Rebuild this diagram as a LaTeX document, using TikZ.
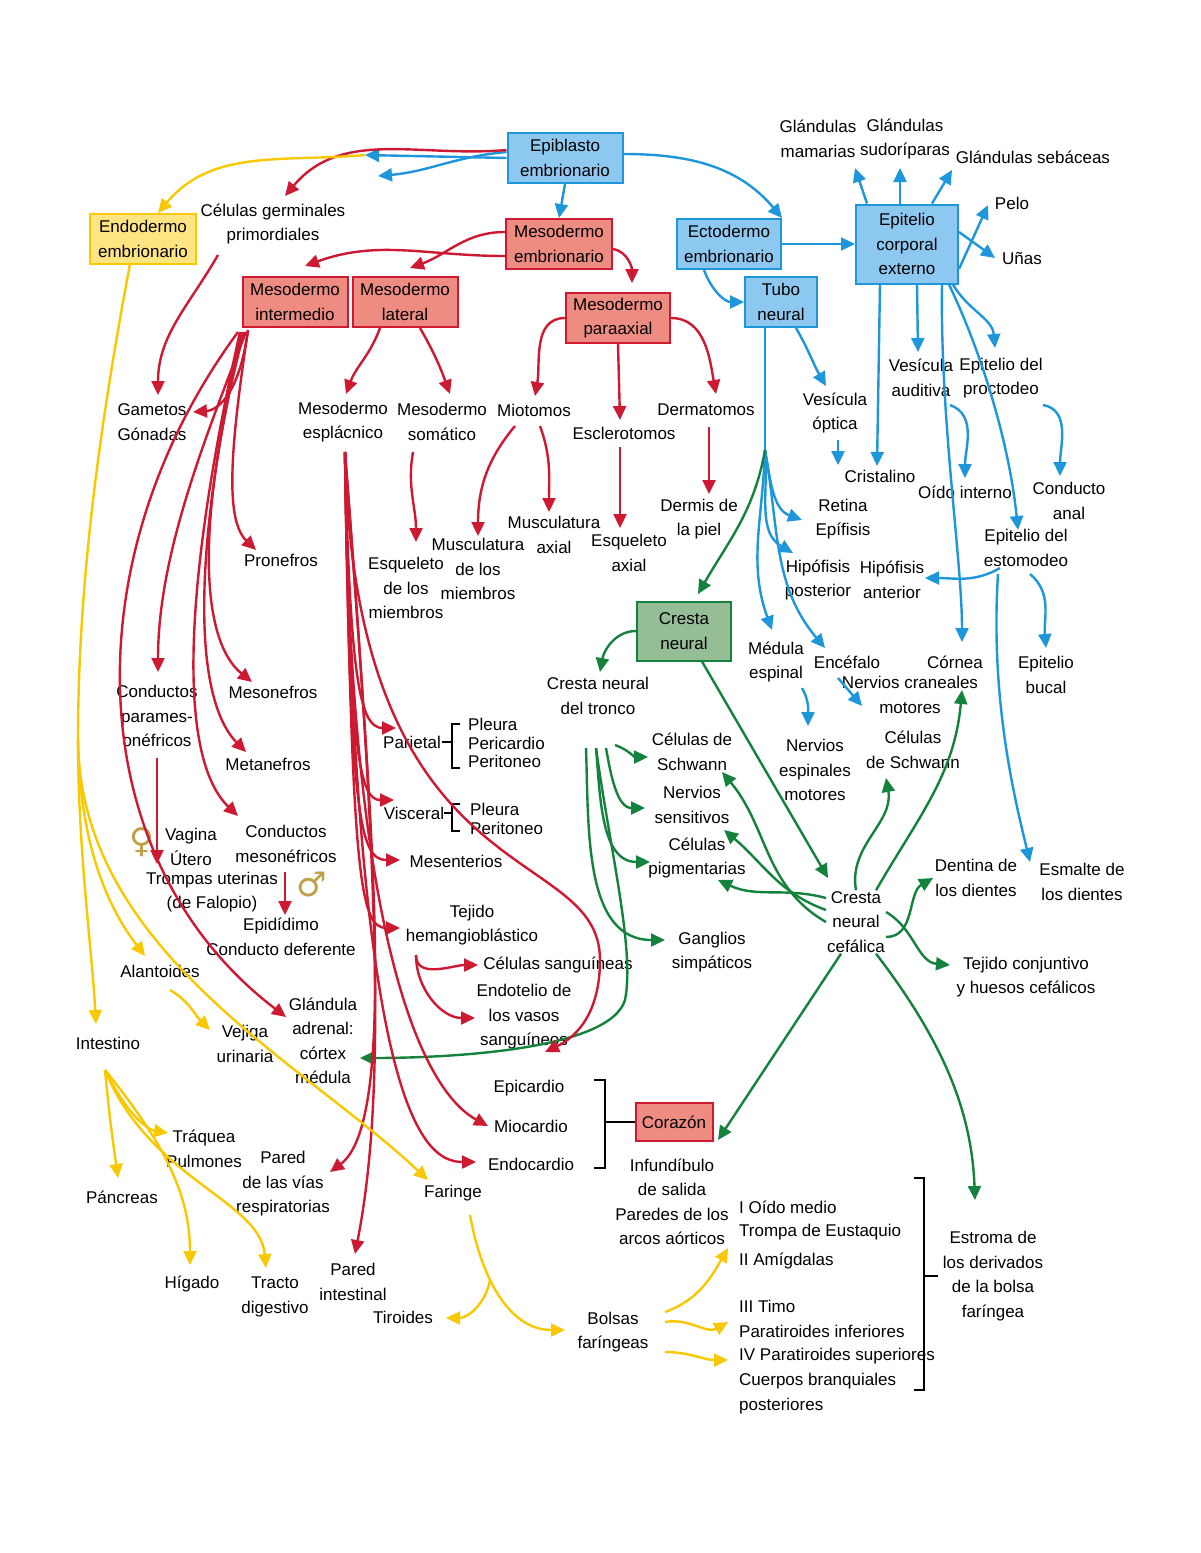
\documentclass[tikz,border=0pt]{standalone}
\usepackage{fontspec}
\setmainfont{Liberation Sans}
\newfontfamily\sym{DejaVu Sans}
\usetikzlibrary{arrows.meta}
\definecolor{bl}{RGB}{30,150,220}
\definecolor{blf}{RGB}{140,200,240}
\definecolor{rd}{RGB}{205,25,50}
\definecolor{rdf}{RGB}{238,140,130}
\definecolor{yl}{RGB}{250,200,0}
\definecolor{ylf}{RGB}{255,228,130}
\definecolor{gr}{RGB}{20,130,60}
\definecolor{grf}{RGB}{150,190,150}
\definecolor{gold}{RGB}{190,160,70}
\newcommand{\fs}{\fontsize{17}{24.5}\selectfont}
\tikzset{
 t/.style={align=center,font=\fs,inner sep=1pt},
 tl/.style={align=left,font=\fs,inner sep=1pt,anchor=west},
 sy/.style={font=\sym\fontsize{34}{34}\selectfont,text=gold,inner sep=0pt},
 bx/.style={t,draw,line width=2pt,minimum height=50pt,inner sep=4pt},
 B/.style={bx,draw=bl,fill=blf},
 R/.style={bx,draw=rd,fill=rdf},
 Y/.style={bx,draw=yl,fill=ylf},
 G/.style={bx,draw=gr,fill=grf},
 a/.style={line width=2.4pt,-{Triangle[length=14pt,width=13pt]}},
 ab/.style={a,bl}, ar/.style={a,rd}, ay/.style={a,yl}, ag/.style={a,gr},
 ln/.style={line width=2.4pt}
}
\begin{document}
\begin{tikzpicture}[x=1pt,y=-1pt]
\useasboundingbox[fill=white] (0,0) rectangle (1200,1553);
% boxes
\node[B,minimum width=115pt] (epi) at (565,158) {Epiblasto\\embrionario};
\node[Y,minimum width=106pt] (endo) at (143,239) {Endodermo\\embrionario};
\node[R,minimum width=106pt] (meso) at (559,244) {Mesodermo\\embrionario};
\node[B,minimum width=104pt] (ecto) at (729,244) {Ectodermo\\embrionario};
\node[R,minimum width=105pt] (mint) at (295,302) {Mesodermo\\intermedio};
\node[R,minimum width=105pt] (mlat) at (405,302) {Mesodermo\\lateral};
\node[R,minimum width=104pt] (mpar) at (618,318) {Mesodermo\\paraaxial};
\node[B,minimum width=72pt] (tubo) at (781,302) {Tubo\\neural};
\node[B,minimum width=102pt,minimum height=79pt] (epit) at (907,244) {Epitelio\\corporal\\externo};
\node[G,minimum width=94pt,minimum height=59pt] (cn) at (684,631) {Cresta\\neural};
\node[R,minimum width=77pt,minimum height=38pt] (cor) at (674,1122) {Corazón};
% texts
\node[t] (cgp) at (273,224) {Células germinales\\primordiales};
\node[t] (gma) at (818,139) {Glándulas\\mamarias};
\node[t] (gsu) at (905,139) {Glándulas\\sudoríparas};
\node[t] (gse) at (1033,157) {Glándulas sebáceas};
\node[t] (pelo) at (1012,203) {Pelo};
\node[t] (unas) at (1022,258) {Uñas};
\node[t] (gam) at (152,422) {Gametos\\Gónadas};
\node[t] (mesp) at (343,422) {Mesodermo\\esplácnico};
\node[t] (msom) at (442,422) {Mesodermo\\somático};
\node[t] (mio) at (534,410) {Miotomos};
\node[t] (der) at (706,410) {Dermatomos};
\node[t] (esc) at (624,433) {Esclerotomos};
\node[t] (vop) at (835,413) {Vesícula\\óptica};
\node[t] (vau) at (921,378) {Vesícula\\auditiva};
\node[t] (epr) at (1001,378) {Epitelio del\\proctodeo};
\node[t] (cri) at (880,476) {Cristalino};
\node[t] (oid) at (965,492) {Oído interno};
\node[t] (can) at (1069,501) {Conducto\\anal};
\node[t] (ret) at (843,519) {Retina\\Epífisis};
\node[t] (dpi) at (699,519) {Dermis de\\la piel};
\node[t] (max) at (554,535) {Musculatura\\axial};
\node[t] (eax) at (629,553) {Esqueleto\\axial};
\node[t] (mmi) at (478,569) {Musculatura\\de los\\miembros};
\node[t] (emi) at (406,588) {Esqueleto\\de los\\miembros};
\node[t] (pro) at (281,560) {Pronefros};
\node[t] (est) at (1026,548) {Epitelio del\\estomodeo};
\node[t] (hpo) at (818,580) {Hipófisis\\posterior};
\node[t] (han) at (892,580) {Hipófisis\\anterior};
\node[t] (med) at (776,662) {Médula\\espinal};
\node[t] (enc) at (847,662) {Encéfalo};
\node[t] (cor2) at (955,662) {Córnea};
\node[t] (ebu) at (1046,675) {Epitelio\\bucal};
\node[t] (ncr) at (910,695) {Nervios craneales\\motores};
\node[t] (cnt) at (598,696) {Cresta neural\\del tronco};
\node[t] (cpm) at (157,716) {Conductos\\parames-\\onéfricos};
\node[t] (mes) at (273,692) {Mesonefros};
\node[t] (sch1) at (692,752) {Células de\\Schwann};
\node[t] (nem) at (815,770) {Nervios\\espinales\\motores};
\node[t] (sch2) at (913,750) {Células\\de Schwann};
\node[t] (par) at (412,742) {Parietal};
\node[tl] (ppp) at (467,743) {Pleura\\[-6pt]Pericardio\\[-6pt]Peritoneo};
\node[t] (met) at (268,764) {Metanefros};
\node[t] (nse) at (692,805) {Nervios\\sensitivos};
\node[t] (vis) at (414,813) {Visceral};
\node[tl] (pp) at (469,819) {Pleura\\[-6pt]Peritoneo};
\node[t] (vag) at (191,847) {Vagina\\Útero};
\node[sy] (fem) at (142,842) {♀};
\node[t] (cme) at (286,844) {Conductos\\mesonéfricos};
\node[t] (cpi) at (697,858) {Células\\pigmentarias};
\node[t] (mst) at (456,861) {Mesenterios};
\node[t] (den) at (976,878) {Dentina de\\los dientes};
\node[t] (esm) at (1082,882) {Esmalte de\\los dientes};
\node[t] (tro) at (212,892) {Trompas uterinas\\(de Falopio)};
\node[sy] (mas) at (312,884) {♂};
\node[t] (cnc) at (856,922) {Cresta\\neural\\cefálica};
\node[t] (the) at (472,925) {Tejido\\hemangioblástico};
\node[t] (epd) at (281,937) {Epidídimo\\Conducto deferente};
\node[t] (gan) at (712,952) {Ganglios\\simpáticos};
\node[t] (csa) at (558,965) {Células sanguíneas};
\node[t] (tej) at (1026,977) {Tejido conjuntivo\\y huesos cefálicos};
\node[t] (ala) at (160,971) {Alantoides};
\node[t] (endv) at (524,1017) {Endotelio de\\los vasos\\sanguíneos};
\node[t] (adr) at (323,1041) {Glándula\\adrenal:\\córtex\\médula};
\node[t] (vej) at (245,1044) {Vejiga\\urinaria};
\node[t] (int) at (108,1043) {Intestino};
\node[t] (epc) at (529,1088) {Epicardio};
\node[t] (mic) at (531,1126) {Miocardio};
\node[t] (enc2) at (531,1164) {Endocardio};
\node[t] (tra) at (204,1149) {Tráquea\\Pulmones};
\node[t] (pvr) at (283,1184) {Pared\\de las vías\\respiratorias};
\node[t] (pan) at (122,1197) {Páncreas};
\node[t] (far) at (453,1193) {Faringe};
\node[t] (inf) at (672,1202) {Infundíbulo\\de salida\\Paredes de los\\arcos aórticos};
\node[tl] (l1) at (738,1207) {I Oído medio};
\node[tl] (l2) at (738,1232) {Trompa de Eustaquio};
\node[tl] (l3) at (738,1261) {II Amígdalas};
\node[tl] (l4) at (738,1306) {III Timo};
\node[tl] (l5) at (738,1331) {Paratiroides inferiores};
\node[tl] (l6) at (738,1356) {IV Paratiroides superiores};
\node[tl] (l7) at (738,1381) {Cuerpos branquiales};
\node[tl] (l8) at (738,1406) {posteriores};
\node[t] (estr) at (993,1276) {Estroma de\\los derivados\\de la bolsa\\faríngea};
\node[t] (hig) at (192,1284) {Hígado};
\node[t] (tdi) at (275,1297) {Tracto\\digestivo};
\node[t] (pin) at (353,1282) {Pared\\intestinal};
\node[t] (tir) at (403,1317) {Tiroides};
\node[t] (bol) at (613,1332) {Bolsas\\faríngeas};
% brackets
\draw[line width=1.2pt] (442,742)--(452,742) (460,724)--(452,724)--(452,768)--(460,768);
\draw[line width=1.2pt] (444,813)--(452,813) (460,804)--(452,804)--(452,831)--(460,831);
\draw[line width=1.5pt] (594,1080)--(605,1080)--(605,1168)--(594,1168) (605,1122)--(cor.west);
\draw[line width=1.5pt] (914,1178)--(924,1178)--(924,1390)--(914,1390) (924,1276)--(938,1276);
% ---- blue
\coordinate (yb) at (365,155);
\draw[ab] (epi.west) -- (yb);
\draw[ab] ([yshift=6]epi.west) to[out=185,in=5] (378,176);
\draw[ab] (epi.south) -- (meso.north);
\draw[ab] ([yshift=4]epi.east) to[out=0,in=130] (ecto.north east);
\draw[ab] (ecto.east) -- (epit.west);
\draw[ab] ([xshift=-25]ecto.south) to[out=-70,in=180] (tubo.west);
\draw[ab] ([xshift=-40]epit.north) -- (855,168);
\draw[ab] ([xshift=-7]epit.north) -- (900,168);
\draw[ab] ([xshift=25]epit.north) -- (952,170);
\draw[ab] ([yshift=-25]epit.east) -- (988,205);
\draw[ab] ([yshift=12]epit.east) -- (995,258);
\draw[ab] ([xshift=10]epit.south) -- (918,352);
\draw[ab] ([xshift=46]epit.south) to[out=-60,in=95] (995,348);
\draw[ab] ([xshift=-27]epit.south) -- (877,466);
\draw[ab] ([xshift=35]epit.south) .. controls (940,420) and (962,560) .. (962,642);
\draw[ab] ([xshift=42]epit.south) .. controls (985,360) and (1010,450) .. (1018,530);
\draw[ab] (950,405) to[out=-20,in=90] (965,478);
\draw[ab] (1043,405) to[out=-10,in=90] (1060,476);
\draw[ab] (1000,568) to[out=-150,in=0] (925,578);
\draw[ab] (998,574) .. controls (990,700) and (1015,800) .. (1030,862);
\draw[ab] (1030,574) to[out=-40,in=95] (1046,648);
\draw[ab] ([xshift=15]tubo.south) to[out=-60,in=120] (826,386);
\draw[ab] (838,440) -- (838,465);
\coordinate (tt) at (765,450);
\draw[ln,bl] ([xshift=-16]tubo.south) -- (tt);
\draw[ab] (tt) to[out=-80,in=160] (802,520);
\draw[ab] (tt) to[out=-85,in=150] (793,553);
\draw[ab] (tt) to[out=-92,in=110] (772,630);
\draw[ab] (tt) to[out=-80,in=130] (825,648);
\draw[ab] (802,688) to[out=-60,in=90] (808,726);
\draw[ab] (838,678) -- (862,706);
% ---- green
\draw[ag] (tt) to[out=-100,in=60] (698,594);
\draw[ag] (cn.west) to[out=180,in=80] (600,672);
\draw[ag] ([xshift=18]cn.south) -- (828,878);
\coordinate (ct1) at (586,748); \coordinate (ct2) at (596,748); \coordinate (ct3) at (606,748);
\draw[ag] (615,745) to[out=-20,in=180] (648,757);
\draw[ag] (ct3) to[out=-80,in=180] (645,808);
\draw[ag] (ct2) to[out=-85,in=180] (650,862);
\draw[ag] (ct1) to[out=-88,in=180] (665,940);
\draw[ag] (ct2) .. controls (610,850) and (635,950) .. (625,1000) .. controls (610,1050) and (450,1058) .. (360,1058);
\draw[ag] (cnc.west) to[out=150,in=-50] (722,772);
\draw[ag] ([yshift=12]cnc.west) to[out=160,in=-40] (724,830);
\draw[ag] ([yshift=24]cnc.west) to[out=165,in=-25] (718,880);
\draw[ag] (cnc.north) to[out=100,in=-80] (886,778);
\draw[ag] ([xshift=20]cnc.north) to[out=60,in=-95] (962,690);
\draw[ag] ([yshift=-15]cnc.east) to[out=0,in=-150] (933,878);
\draw[ag] ([yshift=10]cnc.east) to[out=-30,in=175] (950,965);
\draw[ag] ([xshift=-15]cnc.south) -- (718,1140);
\draw[ag] ([xshift=20]cnc.south) .. controls (950,1050) and (972,1120) .. (975,1200);
% ---- red
\draw[ar] ([yshift=8]epi.west) to[out=185,in=50] (285,196);
\draw[ar] ([yshift=-12]meso.west) to[out=180,in=20] (305,266);
\draw[ar] ([yshift=12]meso.west) to[out=180,in=20] (410,268);
\draw[ar] ([yshift=-5]meso.east) to[out=-10,in=90] (632,283);
\draw[ar] (218,255) to[out=-120,in=90] (158,395);
\coordinate (mi) at (248,330);
\draw[ar] (mi) .. controls (240,390) and (220,410) .. (193,412);
\draw[ar] (mi) .. controls (230,450) and (225,520) .. (256,550);
\draw[ar] (246,332) .. controls (200,450) and (158,560) .. (158,672);
\draw[ar] (244,332) .. controls (195,520) and (200,640) .. (252,682);
\draw[ar] (242,332) .. controls (190,560) and (195,700) .. (246,752);
\draw[ar] (240,332) .. controls (180,600) and (180,760) .. (238,816);
\draw[ar] (238,332) .. controls (70,560) and (80,860) .. (286,1017);
\draw[ar] (157,758) -- (157,864);
\draw[ar] (285,872) -- (285,915);
\draw[ar] ([xshift=-25]mlat.south) to[out=-110,in=70] (346,394);
\draw[ar] ([xshift=15]mlat.south) to[out=-60,in=110] (450,394);
\draw[ar] (mpar.west) to[out=180,in=80] (535,396);
\draw[ar] (mpar.south) -- (620,420);
\draw[ar] (mpar.east) to[out=0,in=100] (716,394);
\draw[ar] (620,447) -- (620,528);
\draw[ar] (709,427) -- (709,494);
\draw[ar] (413,452) to[out=-100,in=90] (416,542);
\draw[ar] (515,426) to[out=-130,in=90] (478,536);
\draw[ar] (540,426) to[out=-70,in=90] (549,512);
\coordinate (sp) at (345,452);
\draw[ar] (sp) .. controls (350,680) and (360,728) .. (396,728);
\draw[ar] (sp) .. controls (350,760) and (360,800) .. (394,800);
\draw[ar] (sp) .. controls (350,820) and (360,860) .. (400,860);
\draw[ar] (sp) .. controls (352,880) and (360,928) .. (400,928);
\draw[ar] (sp) .. controls (355,900) and (600,840) .. (600,960) .. controls (600,1020) and (570,1040) .. (545,1052);
\draw[ar] (sp) .. controls (350,1000) and (440,1100) .. (488,1126);
\draw[ar] (sp) .. controls (355,1100) and (420,1162) .. (476,1162);
\draw[ar] (sp) .. controls (370,800) and (400,1120) .. (330,1172);
\draw[ar] (sp) .. controls (380,900) and (385,1100) .. (355,1254);
\draw[ar] (416,955) to[out=-90,in=180] (478,965);
\draw[ar] (416,955) to[out=-90,in=180] (475,1018);
% ---- yellow
\draw[ay] (yb) to[out=185,in=50] ([xshift=15]endo.north);
\coordinate (ye) at (130,264);
\coordinate (yt) at (78,740);
\draw[ln,yl] (ye) .. controls (95,450) and (78,600) .. (yt);
\draw[ay] (yt) .. controls (78,850) and (92,950) .. (96,1024);
\draw[ay] (yt) .. controls (80,850) and (110,910) .. (145,956);
\draw[ay] (yt) .. controls (80,950) and (300,1060) .. (428,1180);
\draw[ay] (170,990) to[out=-30,in=135] (210,1030);
\coordinate (yi) at (105,1070);
\draw[ay] (yi) .. controls (130,1120) and (150,1130) .. (168,1133);
\draw[ay] (yi) .. controls (110,1120) .. (118,1178);
\draw[ay] (yi) .. controls (170,1150) and (190,1200) .. (190,1265);
\draw[ay] (yi) .. controls (150,1180) and (260,1200) .. (266,1268);
\draw[ay] (470,1215) to[out=-80,in=180] (565,1330);
\draw[ay] (490,1280) to[out=-100,in=0] (446,1318);
\draw[ay] (665,1312) to[out=20,in=-120] (728,1248);
\draw[ay] (665,1322) to[out=10,in=-150] (728,1322);
\draw[ay] (665,1352) to[out=0,in=180] (728,1360);
\end{tikzpicture}
\end{document}
